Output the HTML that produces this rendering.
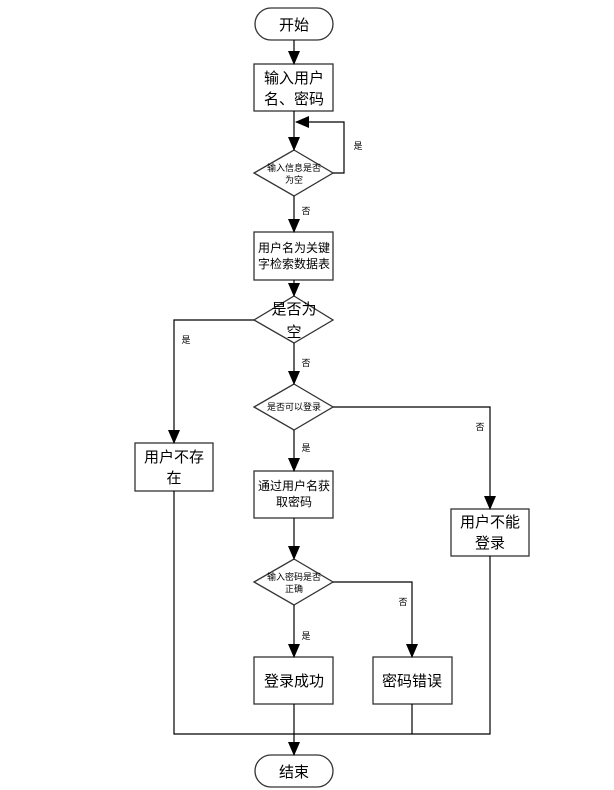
<!DOCTYPE html>
<html><head><meta charset="utf-8"><style>
html,body{margin:0;padding:0;background:#fff;}
svg{display:block;}
text{font-family:"Liberation Sans","Noto Sans CJK SC",sans-serif;fill:#000;text-anchor:middle;}
</style></head><body>
<svg width="614" height="790" viewBox="0 0 614 790" xmlns="http://www.w3.org/2000/svg">
<defs><marker id="a" markerWidth="10" markerHeight="10" refX="9" refY="5" orient="auto" markerUnits="userSpaceOnUse"><path d="M0,0 L10,5 L0,10 z" fill="#000"/></marker>
<marker id="b" markerWidth="14" markerHeight="12" refX="13" refY="6" orient="auto" markerUnits="userSpaceOnUse"><path d="M0,0 L14,6 L0,12 z" fill="#000"/></marker></defs>
<g stroke="#333" stroke-width="1.3" fill="#fff">
<rect x="255" y="8" width="78" height="32" rx="16"/>
<rect x="254" y="64" width="79" height="47"/>
<polygon points="294,150 333,173 294,196 254,173"/>
<rect x="254" y="232" width="79" height="48"/>
<polygon points="294,296 333,320 294,343 254,320"/>
<polygon points="294,384 333,407 294,430 254,407"/>
<rect x="135" y="443" width="78" height="48"/>
<rect x="254" y="471" width="79" height="47"/>
<rect x="451" y="509" width="78" height="47"/>
<polygon points="294,559 333,582 294,605 254,582"/>
<rect x="254" y="657" width="79" height="47"/>
<rect x="373" y="657" width="79" height="47"/>
<rect x="255" y="755" width="78" height="32" rx="16"/>
</g>
<g stroke="#000" stroke-width="1.2" fill="none">
<path d="M294,40 V64" marker-end="url(#b)"/>
<path d="M294,111 V150" marker-end="url(#b)"/>
<path d="M333,173 H344 V122 H296" marker-end="url(#b)"/>
<path d="M294,196 V232" marker-end="url(#b)"/>
<path d="M294,280 V296" marker-end="url(#b)"/>
<path d="M254,320 H174 V443" marker-end="url(#b)"/>
<path d="M294,343 V384" marker-end="url(#b)"/>
<path d="M333,407 H490 V509" marker-end="url(#b)"/>
<path d="M294,430 V471" marker-end="url(#b)"/>
<path d="M294,518 V559" marker-end="url(#b)"/>
<path d="M333,582 H412 V657" marker-end="url(#b)"/>
<path d="M294,605 V657" marker-end="url(#b)"/>
<path d="M174,491 V734 H490 V556"/>
<path d="M412,704 V734"/>
<path d="M294,704 V755" marker-end="url(#b)"/>
</g>
<g font-size="15">
<text x="294" y="30">开始</text>
<text x="294" y="83">输入用户</text>
<text x="294" y="104">名、密码</text>
<text x="294" y="314">是否为</text>
<text x="294" y="337">空</text>
<text x="174" y="462">用户不存</text>
<text x="174" y="483">在</text>
<text x="490" y="527">用户不能</text>
<text x="490" y="548">登录</text>
<text x="294" y="686">登录成功</text>
<text x="412" y="686">密码错误</text>
<text x="294" y="777">结束</text>
</g>
<g font-size="12">
<text x="294" y="252">用户名为关键</text>
<text x="294" y="268">字检索数据表</text>
<text x="294" y="490">通过用户名获</text>
<text x="294" y="506">取密码</text>
</g>
<g font-size="9">
<text x="294" y="171">输入信息是否</text>
<text x="294" y="183">为空</text>
<text x="294" y="410">是否可以登录</text>
<text x="294" y="580">输入密码是否</text>
<text x="294" y="592">正确</text>
<text x="358" y="149">是</text>
<text x="306" y="214">否</text>
<text x="186" y="343">是</text>
<text x="306" y="366">否</text>
<text x="306" y="451">是</text>
<text x="480" y="430">否</text>
<text x="403" y="605">否</text>
<text x="306" y="639">是</text>
</g>
</svg>
</body></html>
